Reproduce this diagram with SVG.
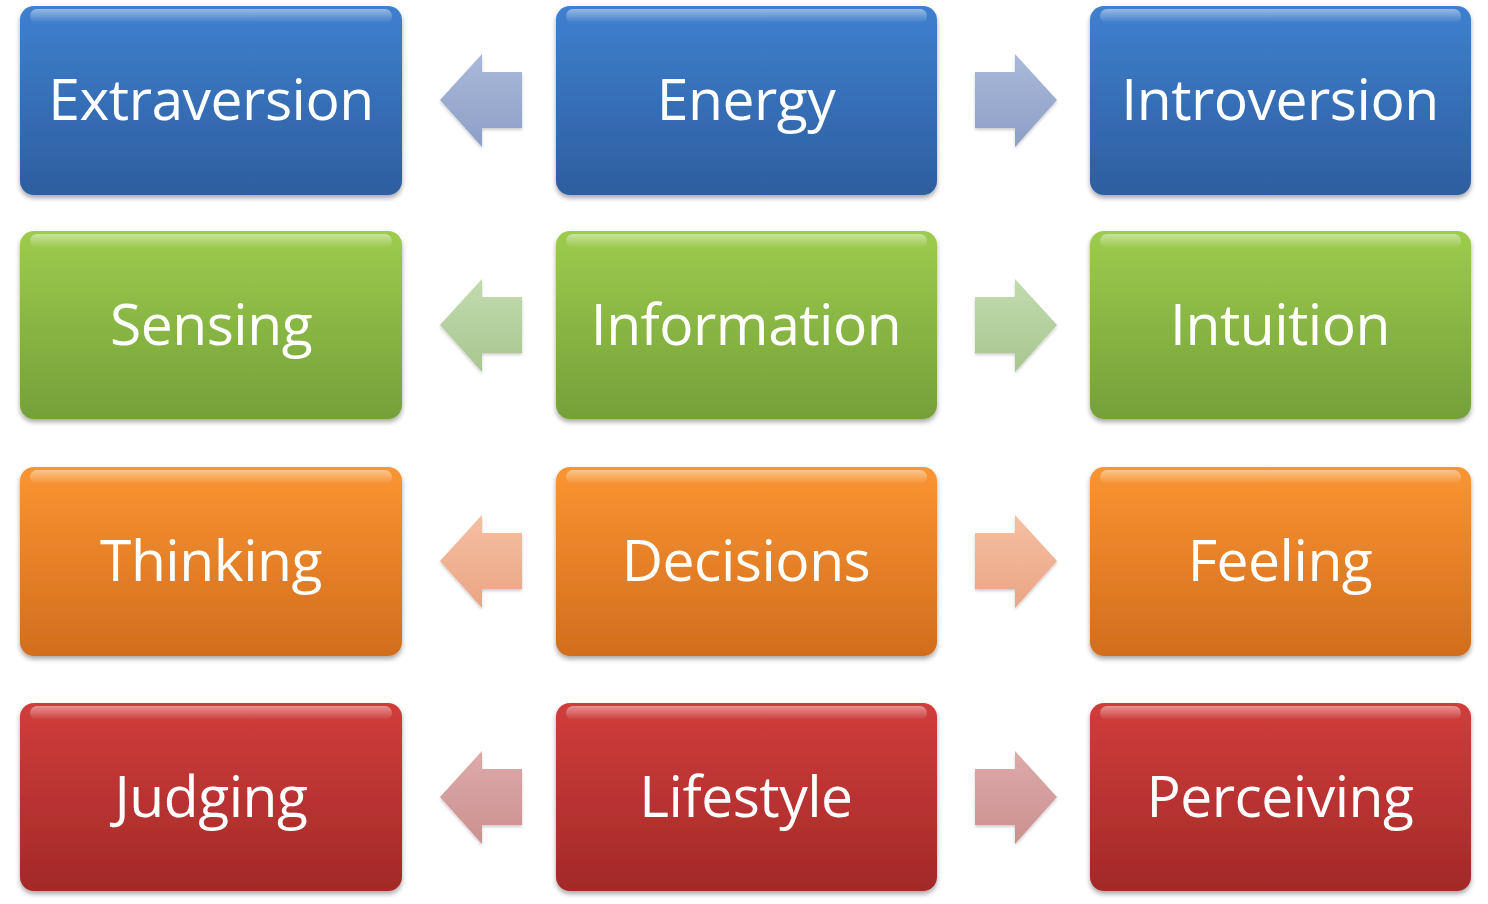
<svg xmlns="http://www.w3.org/2000/svg" width="1488" height="904" viewBox="0 0 1488 904">
<defs>
<linearGradient id="gBlue" x1="0" y1="0" x2="0" y2="1"><stop offset="0" stop-color="#3F80CF"/><stop offset="1" stop-color="#2D5E9F"/></linearGradient>
<linearGradient id="gGreen" x1="0" y1="0" x2="0" y2="1"><stop offset="0" stop-color="#9DCC4D"/><stop offset="1" stop-color="#74A039"/></linearGradient>
<linearGradient id="gOrange" x1="0" y1="0" x2="0" y2="1"><stop offset="0" stop-color="#F99532"/><stop offset="1" stop-color="#D26D1D"/></linearGradient>
<linearGradient id="gRed" x1="0" y1="0" x2="0" y2="1"><stop offset="0" stop-color="#D03D3B"/><stop offset="1" stop-color="#A32928"/></linearGradient>
<linearGradient id="aBlue" x1="0" y1="0" x2="0" y2="1"><stop offset="0" stop-color="#A9B9DA"/><stop offset="1" stop-color="#8E9FC6"/></linearGradient>
<linearGradient id="aGreen" x1="0" y1="0" x2="0" y2="1"><stop offset="0" stop-color="#C2DBAE"/><stop offset="1" stop-color="#A9C690"/></linearGradient>
<linearGradient id="aOrange" x1="0" y1="0" x2="0" y2="1"><stop offset="0" stop-color="#F6BFA2"/><stop offset="1" stop-color="#E9A584"/></linearGradient>
<linearGradient id="aRed" x1="0" y1="0" x2="0" y2="1"><stop offset="0" stop-color="#DDAAAA"/><stop offset="1" stop-color="#CC9090"/></linearGradient>
<linearGradient id="gloss" x1="0" y1="0" x2="0" y2="1"><stop offset="0" stop-color="#fff" stop-opacity="0.45"/><stop offset="1" stop-color="#fff" stop-opacity="0"/></linearGradient>
<filter id="sh" x="-5%" y="-5%" width="110%" height="115%"><feDropShadow dx="0" dy="3" stdDeviation="2.5" flood-color="#000" flood-opacity="0.35"/></filter>
<filter id="ash" x="-10%" y="-10%" width="120%" height="125%"><feDropShadow dx="0" dy="2" stdDeviation="1.5" flood-color="#000" flood-opacity="0.2"/></filter>
</defs>
<style>
.lbl{font-family:"Open Sans","DejaVu Sans",sans-serif;font-size:57px;letter-spacing:-0.5px;fill:#fff;text-anchor:middle}
.gl{fill:url(#gloss)}
</style>

<g id="connectors">
  <g filter="url(#ash)">
    <path d="M440 100 L482 54 L482 72 L522 72 L522 128 L482 128 L482 147 Z" fill="url(#aBlue)"/>
    <path d="M1057 100 L1015 54 L1015 72 L975 72 L975 128 L1015 128 L1015 147 Z" fill="url(#aBlue)"/>
    <path d="M440 325 L482 279 L482 297 L522 297 L522 353 L482 353 L482 372 Z" fill="url(#aGreen)"/>
    <path d="M1057 325 L1015 279 L1015 297 L975 297 L975 353 L1015 353 L1015 372 Z" fill="url(#aGreen)"/>
    <path d="M440 561 L482 515 L482 533 L522 533 L522 589 L482 589 L482 608 Z" fill="url(#aOrange)"/>
    <path d="M1057 561 L1015 515 L1015 533 L975 533 L975 589 L1015 589 L1015 608 Z" fill="url(#aOrange)"/>
    <path d="M440 797 L482 751 L482 769 L522 769 L522 825 L482 825 L482 844 Z" fill="url(#aRed)"/>
    <path d="M1057 797 L1015 751 L1015 769 L975 769 L975 825 L1015 825 L1015 844 Z" fill="url(#aRed)"/>
  </g>
</g>

<g id="n-extraversion"><rect x="20" y="6" width="382" height="189" rx="14" fill="url(#gBlue)" filter="url(#sh)"/><rect x="30" y="9" width="362" height="14" rx="7" class="gl"/><text x="211" y="120" class="lbl">Extraversion</text></g>
<g id="n-energy"><rect x="556" y="6" width="381" height="189" rx="14" fill="url(#gBlue)" filter="url(#sh)"/><rect x="566" y="9" width="361" height="14" rx="7" class="gl"/><text x="746" y="120" class="lbl">Energy</text></g>
<g id="n-introversion"><rect x="1090" y="6" width="381" height="189" rx="14" fill="url(#gBlue)" filter="url(#sh)"/><rect x="1100" y="9" width="361" height="14" rx="7" class="gl"/><text x="1280" y="120" class="lbl">Introversion</text></g>

<g id="n-sensing"><rect x="20" y="231" width="382" height="188" rx="14" fill="url(#gGreen)" filter="url(#sh)"/><rect x="30" y="234" width="362" height="14" rx="7" class="gl"/><text x="211" y="345" class="lbl">Sensing</text></g>
<g id="n-information"><rect x="556" y="231" width="381" height="188" rx="14" fill="url(#gGreen)" filter="url(#sh)"/><rect x="566" y="234" width="361" height="14" rx="7" class="gl"/><text x="746" y="345" class="lbl">Information</text></g>
<g id="n-intuition"><rect x="1090" y="231" width="381" height="188" rx="14" fill="url(#gGreen)" filter="url(#sh)"/><rect x="1100" y="234" width="361" height="14" rx="7" class="gl"/><text x="1280" y="345" class="lbl">Intuition</text></g>

<g id="n-thinking"><rect x="20" y="467" width="382" height="189" rx="14" fill="url(#gOrange)" filter="url(#sh)"/><rect x="30" y="470" width="362" height="14" rx="7" class="gl"/><text x="211" y="581" class="lbl">Thinking</text></g>
<g id="n-decisions"><rect x="556" y="467" width="381" height="189" rx="14" fill="url(#gOrange)" filter="url(#sh)"/><rect x="566" y="470" width="361" height="14" rx="7" class="gl"/><text x="746" y="581" class="lbl">Decisions</text></g>
<g id="n-feeling"><rect x="1090" y="467" width="381" height="189" rx="14" fill="url(#gOrange)" filter="url(#sh)"/><rect x="1100" y="470" width="361" height="14" rx="7" class="gl"/><text x="1280" y="581" class="lbl">Feeling</text></g>

<g id="n-judging"><rect x="20" y="703" width="382" height="188" rx="14" fill="url(#gRed)" filter="url(#sh)"/><rect x="30" y="706" width="362" height="14" rx="7" class="gl"/><text x="211" y="817" class="lbl">Judging</text></g>
<g id="n-lifestyle"><rect x="556" y="703" width="381" height="188" rx="14" fill="url(#gRed)" filter="url(#sh)"/><rect x="566" y="706" width="361" height="14" rx="7" class="gl"/><text x="746" y="817" class="lbl">Lifestyle</text></g>
<g id="n-perceiving"><rect x="1090" y="703" width="381" height="188" rx="14" fill="url(#gRed)" filter="url(#sh)"/><rect x="1100" y="706" width="361" height="14" rx="7" class="gl"/><text x="1280" y="817" class="lbl">Perceiving</text></g>
</svg>
